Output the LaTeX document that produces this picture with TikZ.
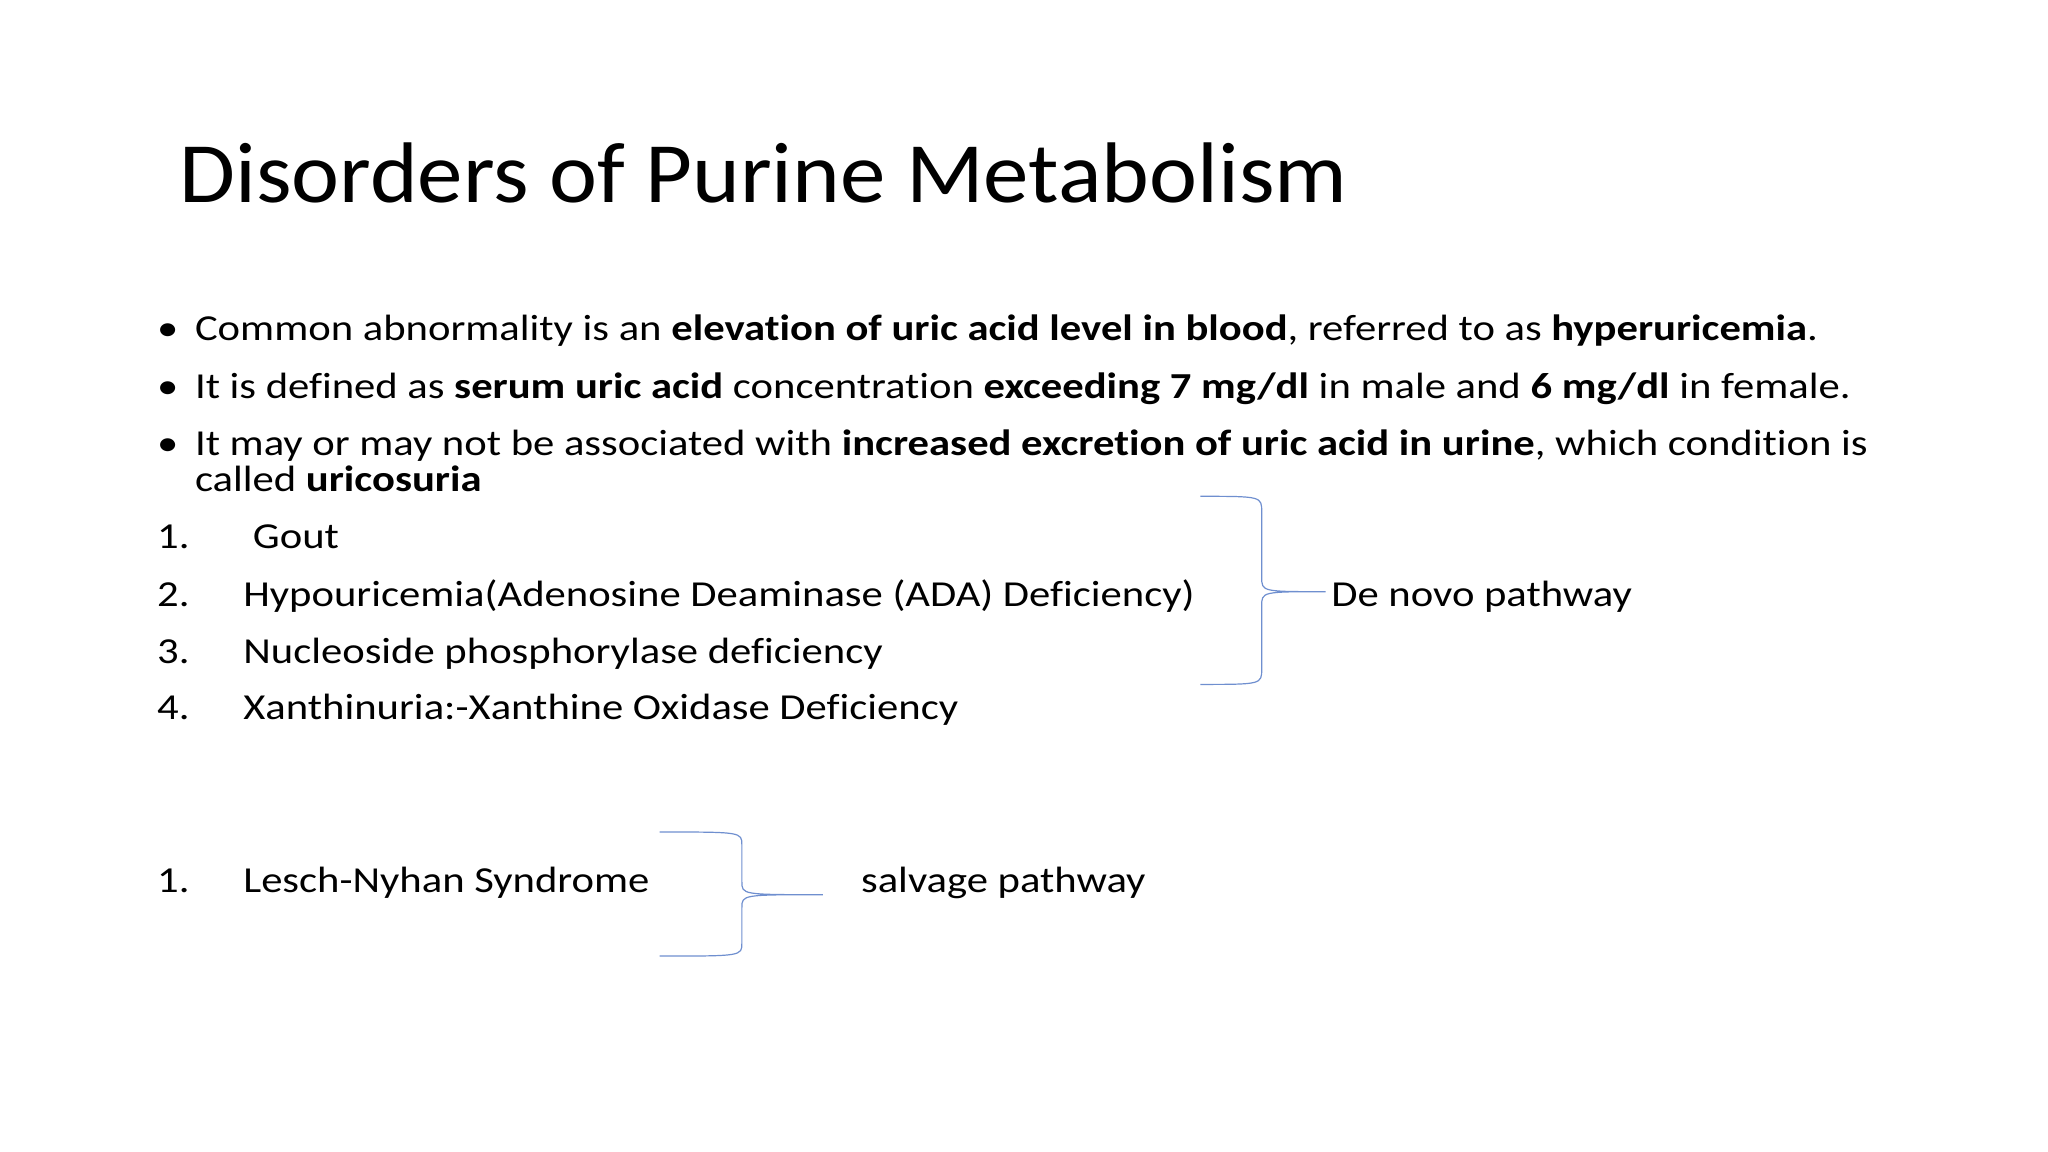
\documentclass[tikz,border=0pt]{standalone}
\usepackage{fontspec}
\setmainfont{Carlito}[FakeStretch=1.165,Ligatures=NoCommon]
\newfontfamily\titlefont{Carlito}[FakeStretch=1.057,Ligatures=NoCommon]
\definecolor{bracecol}{HTML}{6F8FCF}
\begin{document}
\begin{tikzpicture}[x=0.653pt,y=-0.653pt,
  txt/.style={anchor=base west,inner sep=0pt,font=\fontsize{18.3}{20}\selectfont},
  brace/.style={draw=bracecol,line width=0.6pt}]
\useasboundingbox (0,0) rectangle (1568,882);
\node[anchor=base west,inner sep=0pt,font=\titlefont\fontsize{43}{46}\selectfont] (title) at (137,155) {Disorders of Purine Metabolism};
\foreach \y/\t [count=\i] in {261/{Common abnormality is an \textbf{elevation of uric acid level in blood}, referred to as \textbf{hyperuricemia}.},
  305/{It is defined as \textbf{serum uric acid} concentration \textbf{exceeding 7 mg/dl} in male and \textbf{6 mg/dl} in female.},
  349/{It may or may not be associated with \textbf{increased excretion of uric acid in urine}, which condition is}}{
  \node[txt] (b\i) at (120,\y) {•};
  \node[txt] (t\i) at (149,\y) {\t};
}
\node[txt] (t4) at (149,376) {called \textbf{uricosuria}};
\foreach \y/\t [count=\i] in {420/{\ Gout},464/{Hypouricemia(Adenosine Deaminase (ADA) Deficiency)},508/{Nucleoside phosphorylase deficiency},551/{Xanthinuria:-Xanthine Oxidase Deficiency}}{
  \node[txt] (n\i) at (120,\y) {\i.};
  \node[txt] (l\i) at (186,\y) {\t};
}
\node[txt] (m1) at (120,683) {1.};
\node[txt] (lesch) at (186,683) {Lesch-Nyhan Syndrome};
\node[txt] (denovo) at (1019,464) {De novo pathway};
\node[txt] (salv) at (659,683) {salvage pathway};
\draw[brace] (919,380) .. controls (966,380) .. (966,392) -- (966,442) .. controls (966,453) .. (1015,453)
  .. controls (966,453) .. (966,464) -- (966,512) .. controls (966,524) .. (919,524);
\draw[brace] (505,637) .. controls (568,637) .. (568,647) -- (568,675) .. controls (568,685) .. (630,685)
  .. controls (568,685) .. (568,695) -- (568,722) .. controls (568,732) .. (505,732);
\end{tikzpicture}
\end{document}
